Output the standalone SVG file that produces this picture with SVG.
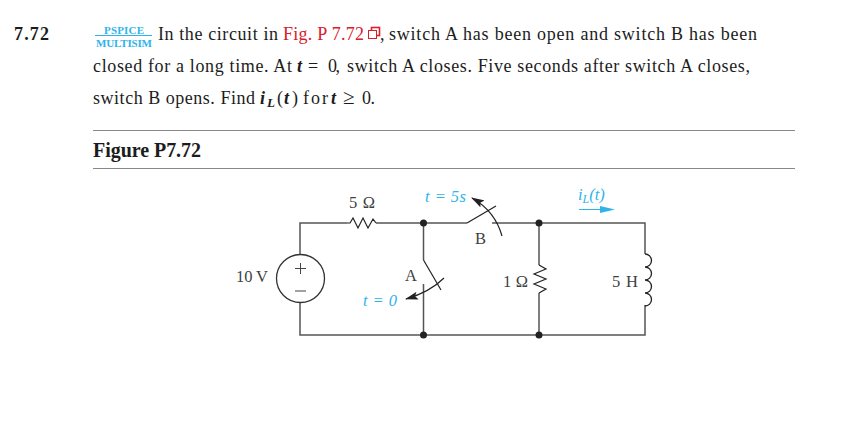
<svg xmlns="http://www.w3.org/2000/svg" width="845" height="429" viewBox="0 0 845 429">
<style>
text{font-family:"Liberation Serif",serif;fill:#1c1c1c}
.b{font-size:18px}
.i{font-style:italic;font-weight:bold}
.c{font-size:16.500px;fill:#3f3f3f}
.blue{fill:#2fb4ea;font-style:italic;font-size:16.500px}
.s{font-size:11px;fill:#2fb4ea;font-weight:bold}
.w{fill:none;stroke:#555;stroke-width:1.500}
.k{fill:none;stroke:#222;stroke-width:1.200}
.dot{fill:#222}
</style>
<defs>
<marker id="ah" markerWidth="13" markerHeight="9" refX="12" refY="4.500" orient="auto" markerUnits="userSpaceOnUse"><path d="M0 0.500L13 4.500L0 8.500L2.500 4.500Z" fill="#222"/></marker>
</defs>
<g id="problem">
<text x="14" y="40" style="font-weight:bold;font-size:18px" textLength="35">7.72</text>
<text class="s" x="104" y="34" textLength="40">PSPICE</text>
<line x1="95" y1="35.500" x2="152" y2="35.500" stroke="#2fb4ea" stroke-width="1"/>
<text class="s" x="96" y="47" textLength="56">MULTISIM</text>
<text class="b" x="158" y="40" textLength="120">In the circuit in</text>
<text class="b" x="283" y="40" style="fill:#d8202c" textLength="81">Fig. P 7.72</text>
<rect x="371.500" y="27.500" width="8" height="8" fill="none" stroke="#d8202c" stroke-width="1.600"/>
<rect x="368.500" y="30.500" width="8" height="8" fill="#fff" stroke="#d8202c" stroke-width="1"/>
<text class="b" x="380" y="40">,</text>
<text class="b" x="389" y="40" textLength="368">switch A has been open and switch B has been</text>
<text class="b" x="93" y="72" textLength="199">closed for a long time. At</text>
<text class="b i" x="297" y="72">t</text>
<text class="b" x="308" y="72" textLength="15">=</text>
<text class="b" x="328" y="72" textLength="12">0,</text>
<text class="b" x="347" y="72" textLength="403">switch A closes. Five seconds after switch A closes,</text>
<text class="b" x="93" y="104" textLength="162">switch B opens. Find</text>
<text class="b i" x="260" y="104">i</text>
<text class="i" x="267" y="107" font-size="13">L</text>
<text class="b" x="277" y="104" font-size="20">(</text>
<text class="b i" x="284" y="104">t</text>
<text class="b" x="292" y="104">)</text>
<text class="b" x="303" y="104" textLength="25">for</text>
<text class="b i" x="331" y="104">t</text>
<text x="343" y="104" font-size="21" textLength="13">≥</text>
<text class="b" x="362" y="104" textLength="13">0.</text>
</g>
<g id="rules">
<line x1="93" y1="130.500" x2="795" y2="130.500" stroke="#888" stroke-width="1"/>
<line x1="93" y1="168.500" x2="795" y2="168.500" stroke="#888" stroke-width="1"/>
</g>
<text x="93" y="157" style="font-size:20px;font-weight:bold" textLength="108">Figure P7.72</text>
<g id="connectors">
<path class="w" d="M300 254V223H347M376 223H467M492 223H645V254"/>
<path class="w" d="M300 302V335H645V305M423.500 223V260M423.500 284V335M539 223V265M539 293V335"/>
</g>
<g id="source"><circle cx="300.500" cy="278.500" r="24" fill="#fff" stroke="#333" stroke-width="1.300"/><path d="M300.500 263V274M295 268.500H306M295 291H306" stroke="#444" fill="none"/><text class="c" x="236" y="282" textLength="32">10 V</text></g>
<g id="r5"><path class="k" d="M347 223L350 223L353 218L358 228L363 218L368 228L373 219L376 223"/><text class="c" x="349" y="208" textLength="26">5 Ω</text></g>
<g id="switchA"><path class="k" d="M423.500 260L441 290"/><path class="k" d="M444 278Q430 292 406 299" marker-end="url(#ah)"/><text class="c" x="405" y="281">A</text><text class="blue" x="363" y="306" textLength="34">t = 0</text></g>
<g id="switchB"><path class="k" d="M467 223L496 206"/><path class="k" d="M502 236Q495 211 472 198" marker-end="url(#ah)"/><text class="c" x="475" y="244">B</text><text class="blue" x="425" y="202" textLength="41">t = 5s</text></g>
<g id="r1"><path class="k" d="M539 265L546 269L534 274L546 279L534 284L546 289L539 293"/><text class="c" x="503" y="287" textLength="25">1 Ω</text></g>
<g id="l5"><path d="M645 254A6.500 6.500 0 0 1 645 267A6.500 6.500 0 0 1 645 280A6.500 6.500 0 0 1 645 293A6.500 6.500 0 0 1 645 306" fill="none" stroke="#222" stroke-width="1.300"/><text class="c" x="612" y="287" textLength="26">5 H</text></g>
<g id="current"><text class="blue" x="578" y="200">i<tspan font-size="12" dy="3">L</tspan><tspan dy="-3">(t)</tspan></text><line x1="579" y1="209.500" x2="603" y2="209.500" stroke="#2fb4ea" stroke-width="1"/><path d="M600 206L615 209.500L600 213Z" fill="#2fb4ea"/></g>
<g id="nodes"><circle class="dot" cx="423.500" cy="223" r="3.500"/><circle class="dot" cx="539" cy="223" r="3.500"/><circle class="dot" cx="423.500" cy="335" r="3.500"/><circle class="dot" cx="539" cy="335" r="3.500"/></g>
</svg>
